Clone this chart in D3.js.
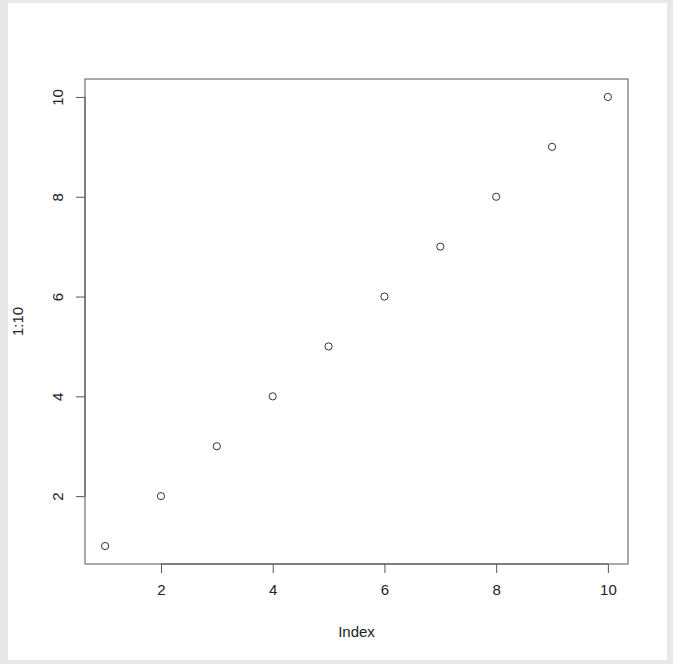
<!DOCTYPE html>
<html>
<head>
<meta charset="utf-8">
<script src="https://cdn.jsdelivr.net/npm/d3@7"></script>
<style>
  html, body { margin: 0; padding: 0; background: #e8e8e8; }
  svg { display: block; }
  text { font-family: "Liberation Sans", Arial, sans-serif; fill: #222; }
</style>
</head>
<body>
<div id="chart"></div>
<script>
// data: plot(1:10)
var index = [1, 2, 3, 4, 5, 6, 7, 8, 9, 10]
var values = [1, 2, 3, 4, 5, 6, 7, 8, 9, 10]
var xTicks = [2, 4, 6, 8, 10]
var yTicks = [2, 4, 6, 8, 10]

var width = 673, height = 664
var box = {left: 85, top: 79, right: 628, bottom: 564}

var svg = d3.select('#chart').append('svg')
    .attr('width', width)
    .attr('height', height)

// white page inside the grey frame
svg.append('rect')
    .attr('x', 8).attr('y', 3)
    .attr('width', 659).attr('height', 657)
    .attr('fill', '#fff')

// R pads the range by 4% on each side
var pad = (10 - 1) * 0.04
var x = d3.scaleLinear()
    .domain([1 - pad, 10 + pad])
    .range([box.left, box.right])
var y = d3.scaleLinear()
    .domain([1 - pad, 10 + pad])
    .range([box.bottom, box.top])

var xAxis = svg.append('g')
    .attr('transform', 'translate(0,' + box.bottom + ')')
    .call(d3.axisBottom(x).tickValues(xTicks).tickSize(9).tickPadding(11).tickSizeOuter(0))
xAxis.select('.domain')
    .attr('d', 'M' + x(xTicks[0]) + ',0H' + x(xTicks[xTicks.length - 1]))
xAxis.selectAll('line, .domain').attr('stroke', '#555')
xAxis.selectAll('text')
    .style('font-size', '15px')
    .attr('font-family', null)

var yAxis = svg.append('g')
    .attr('transform', 'translate(' + box.left + ',0)')
    .call(d3.axisLeft(y).tickValues(yTicks).tickSize(9).tickSizeOuter(0))
yAxis.select('.domain')
    .attr('d', 'M0,' + y(yTicks[0]) + 'V' + y(yTicks[yTicks.length - 1]))
yAxis.selectAll('line, .domain').attr('stroke', '#555')
yAxis.selectAll('text')
    .attr('x', null).attr('dy', null)
    .attr('text-anchor', 'middle')
    .attr('transform', 'translate(-22,0) rotate(-90)')
    .style('font-size', '15px')
    .attr('font-family', null)

// plot box
svg.append('rect')
    .attr('x', box.left).attr('y', box.top)
    .attr('width', box.right - box.left)
    .attr('height', box.bottom - box.top)
    .attr('fill', 'none')
    .attr('stroke', '#555')
    .attr('stroke-width', 1)

svg.append('g')
    .selectAll('circle')
    .data(index)
    .enter().append('circle')
    .attr('cx', function(d) { return x(d) })
    .attr('cy', function(d, i) { return y(values[i]) })
    .attr('r', 3.6)
    .attr('fill', 'none')
    .attr('stroke', '#333')
    .attr('stroke-width', 1)

svg.append('text')
    .attr('x', (box.left + box.right) / 2)
    .attr('y', 637)
    .attr('text-anchor', 'middle')
    .style('font-size', '15px')
    .text('Index')

svg.append('text')
    .attr('transform', 'translate(23,' + (box.top + box.bottom) / 2 + ') rotate(-90)')
    .attr('text-anchor', 'middle')
    .style('font-size', '15px')
    .text('1:10')
</script>
</body>
</html>
